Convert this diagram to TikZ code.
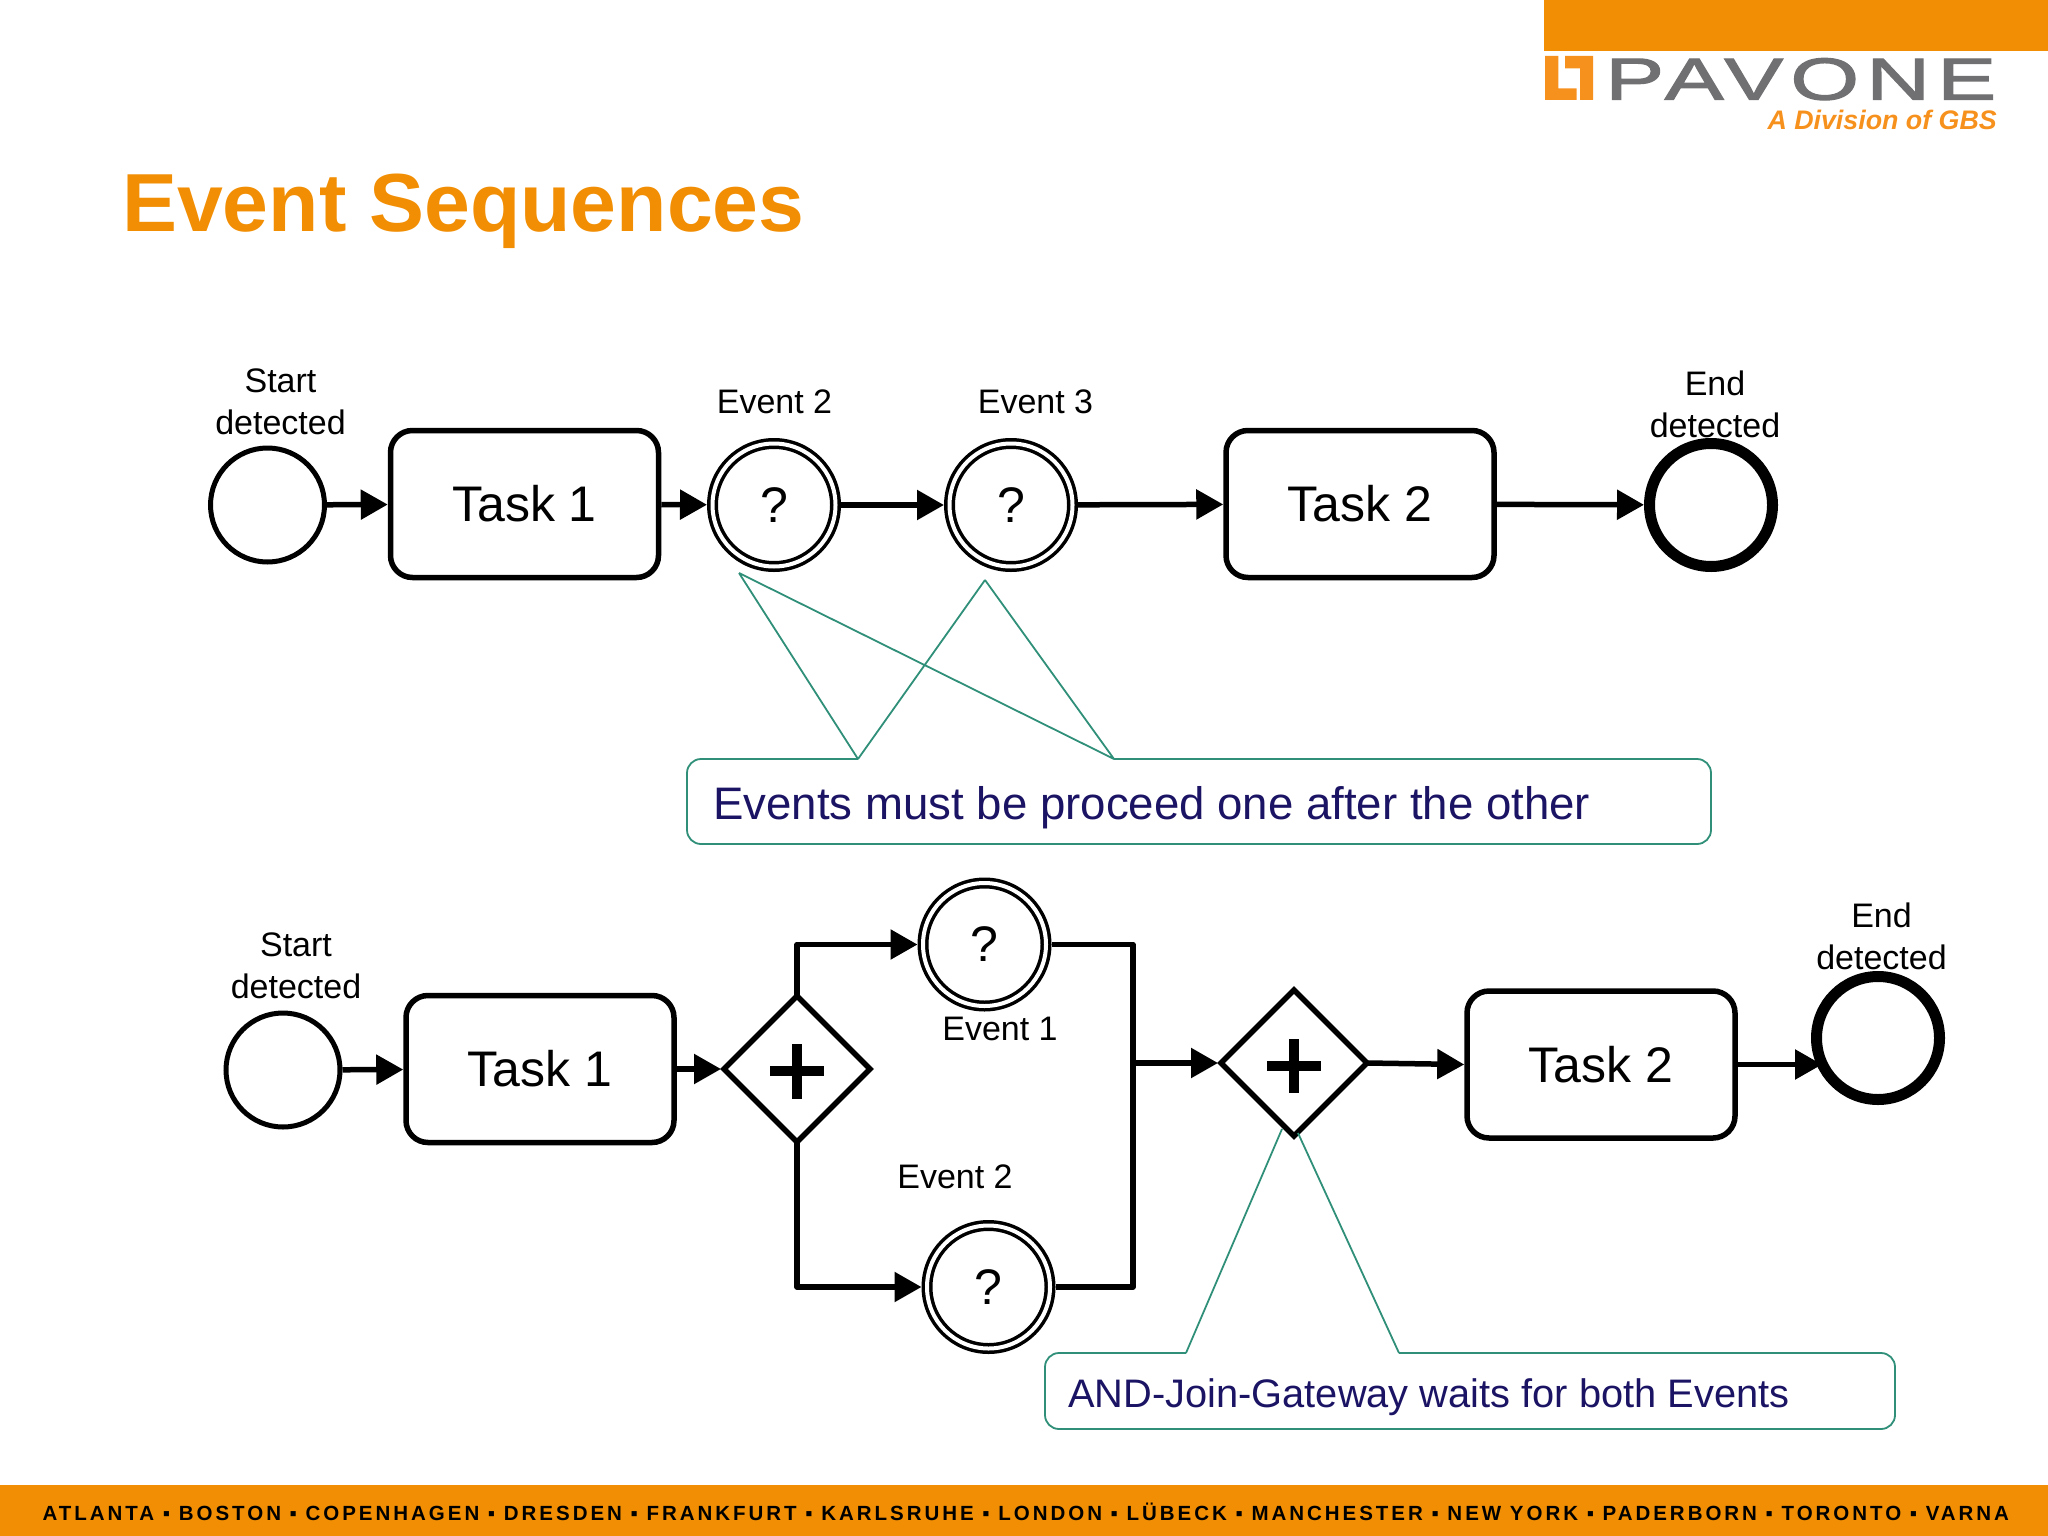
\documentclass[tikz,border=0pt]{standalone}
\usepackage{fontspec}
\setmainfont{Liberation Sans}
\usetikzlibrary{arrows.meta,shapes.geometric,calc}
\definecolor{barorange}{HTML}{F18E04}
\definecolor{logoorange}{HTML}{F7911E}
\definecolor{logogray}{HTML}{707072}
\definecolor{callgreen}{HTML}{2F8F78}
\definecolor{callnavy}{HTML}{1B1464}
\newfontfamily\logofont[FakeStretch=1.5,FakeBold=2.2,LetterSpace=12]{Liberation Sans}
\newfontfamily\cityfont[LetterSpace=14.5]{Liberation Sans Bold}
\tikzset{
 x=1pt,y=-1pt,
 txt/.style={font=\fontsize{34}{42}\selectfont,align=center,inner sep=0,text=black},
 evt/.style={circle,draw,line width=5pt,minimum size=114pt,inner sep=0,outer sep=2.5pt},
 endevt/.style={circle,draw,line width=11pt,minimum size=123pt,inner sep=0,outer sep=5.5pt},
 catch/.style={circle,draw,line width=3.5pt,double,double distance=4pt,minimum size=123pt,inner sep=0,outer sep=5.5pt,font=\fontsize{50}{50}\selectfont},
 task/.style={rectangle,draw,line width=5.5pt,rounded corners=22pt,minimum width=268pt,minimum height=147pt,inner sep=0,outer sep=2.75pt,font=\fontsize{50}{50}\selectfont},
 gate/.style={diamond,draw,line width=5.5pt,aspect=1,minimum size=146pt,inner sep=0,outer sep=0},
 flow/.style={line width=5.5pt,-{Triangle[length=27pt,width=29pt]},line join=round},
 seq/.style={line width=5.5pt,line join=round},
 plusbar/.style={line width=10.5pt},
 call/.style={draw=callgreen,line width=1.8pt,line join=round},
 calltxt/.style={font=\fontsize{45.6}{50}\selectfont,text=callnavy,inner sep=0,anchor=west},
}
\begin{document}
\begin{tikzpicture}
\useasboundingbox (0,0) rectangle (2048,1536);
\fill[barorange] (1544,0) rectangle (2048,51);
\fill[barorange] (0,1485) rectangle (2048,1536);
% logo
\fill[logoorange] (1545,56) -- (1558.3,56) -- (1558.3,88.3) -- (1576.7,88.3) -- (1576.7,100) -- (1545,100) -- cycle;
\fill[logoorange] (1565,56) -- (1593,56) -- (1593,100) -- (1580,100) -- (1580,68.3) -- (1565,68.3) -- cycle;
\node[anchor=base west,inner sep=0,text=logogray,font=\logofont\fontsize{59}{60}\selectfont] (pavone) at (1605,99.5) {PAVONE};
\node[anchor=base east,inner sep=0,text=logoorange,font=\bfseries\itshape\fontsize{26.8}{30}\selectfont] (gbs) at (1997,130) {A Division of GBS};
\node[anchor=base west,inner sep=0,text=barorange,font=\bfseries\fontsize{82.4}{90}\selectfont] (title) at (122,231) {Event Sequences};
\node[anchor=base,inner sep=0,text=black,font=\cityfont\fontsize{20.5}{24}\selectfont] (cities) at (1026,1520) {ATLANTA ▪ BOSTON ▪ COPENHAGEN ▪ DRESDEN ▪ FRANKFURT ▪ KARLSRUHE ▪ LONDON ▪ LÜBECK ▪ MANCHESTER ▪ NEW YORK ▪ PADERBORN ▪ TORONTO ▪ VARNA};
% row 1
\node[evt] (s1) at (267.5,505) {};
\node[task] (t1) at (524.5,504) {Task 1};
\node[catch] (e12) at (774,505) {?};
\node[catch] (e13) at (1011,505) {?};
\node[task] (t2) at (1360,504) {Task 2};
\node[endevt] (x1) at (1711,505) {};
\node[txt] (ls1) at (280.5,402) {Start\\detected};
\node[txt] (le12) at (774.5,402) {Event 2};
\node[txt] (le13) at (1035.5,402) {Event 3};
\node[txt] (lx1) at (1715,404) {End\\detected};
\draw[flow] (s1) -- (t1);
\draw[flow] (t1) -- (e12);
\draw[flow] (e12) -- (e13);
\draw[flow] (e13) -- (t2);
\draw[flow] (t2) -- (x1);
% callout 1
\coordinate (a1) at (739,573);
\coordinate (a2) at (985,580);
\coordinate (b1) at (858,759);
\coordinate (b2) at (1114,759);
\draw[call] (a1) -- (b1) (a1) -- (b2) (a2) -- (b1) (a2) -- (b2);
\draw[call,rounded corners=14pt] (b1) -- (687,759) -- (687,844) -- (1711,844) -- (1711,759) -- (b2);
\node[calltxt] (c1) at (713,808) {Events must be proceed one after the other};
% row 2
\node[evt] (s2) at (283,1070) {};
\node[task] (t3) at (540,1069) {Task 1};
\node[gate] (g1) at (797,1069) {};
\node[gate] (g2) at (1294,1063) {};
\node[catch] (e21) at (984.5,944.5) {?};
\node[catch] (e22) at (988.5,1287) {?};
\node[task] (t4) at (1601,1064.5) {Task 2};
\node[endevt] (x2) at (1878,1038) {};
\node[txt] (ls2) at (296,966) {Start\\detected};
\node[txt] (lx2) at (1881.5,936.5) {End\\detected};
\node[txt] (le21) at (1000,1029) {Event 1};
\node[txt] (le22) at (955,1177) {Event 2};
\draw[plusbar] ([shift={(-27,2)}]g1.center) -- ([shift={(27,2)}]g1.center);
\draw[plusbar] ([shift={(0,-25)}]g1.center) -- ([shift={(0,30)}]g1.center);
\draw[plusbar] ([shift={(-27,3)}]g2.center) -- ([shift={(27,3)}]g2.center);
\draw[plusbar] ([shift={(0,-24)}]g2.center) -- ([shift={(0,30)}]g2.center);
\coordinate (jm) at (1133,1063);
\coordinate (x2in) at ($(x2.center)+(-56,26.5)$);
\draw[flow] (s2) -- (t3);
\draw[flow,shorten >=3pt] (t3) -- (g1);
\draw[flow] (g1.north) |- (e21.west);
\draw[flow] (g1.south) |- (e22.west);
\draw[seq] (e21.east) -| (jm);
\draw[seq] (e22.east) -| (jm);
\draw[flow,shorten >=3pt] (jm) -- (g2.west);
\draw[flow] (g2.east) -- (t4.west);
\draw[flow] (t4.east) -- (x2in);
% callout 2
\coordinate (d1) at (1282,1129);
\coordinate (d2) at (1298,1133);
\coordinate (f1) at (1186,1353);
\coordinate (f2) at (1399,1353);
\draw[call] (d1) -- (f1) (d2) -- (f2);
\draw[call,rounded corners=14pt] (f1) -- (1045,1353) -- (1045,1429) -- (1895,1429) -- (1895,1353) -- (f2);
\node[calltxt,font=\fontsize{39.8}{50}\selectfont] (c2) at (1068,1397) {AND-Join-Gateway waits for both Events};
\end{tikzpicture}
\end{document}
